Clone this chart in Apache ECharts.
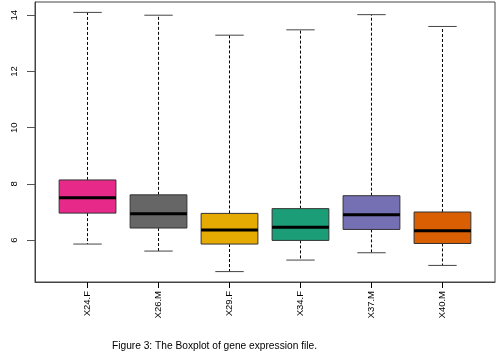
<!DOCTYPE html>
<html>
<head>
<meta charset="utf-8">
<script src="https://cdn.jsdelivr.net/npm/echarts@6/dist/echarts.min.js"></script>
<style>
  html, body { margin: 0; padding: 0; background: #fff; }
  #chart { width: 500px; height: 356px; }
</style>
</head>
<body>
<div id="chart"></div>
<script>
// samples on the x axis
const categories = ['X24.F', 'X26.M', 'X29.F', 'X34.F', 'X37.M', 'X40.M'];
// five-number summaries
const lowerWhisker = [5.86, 5.61, 4.88, 5.29, 5.55, 5.10];
const lowerQuart = [6.96, 6.43, 5.86, 5.99, 6.38, 5.88];
const medians = [7.51, 6.94, 6.36, 6.46, 6.90, 6.33];
const upperQuart = [8.14, 7.61, 6.95, 7.12, 7.58, 7.00];
const upperWhisker = [14.10, 14.00, 13.29, 13.48, 14.02, 13.60];
const yTicks = [6, 8, 10, 12, 14];
const xTicks = [1, 2, 3, 4, 5, 6];
const colors = ['#E7298A', '#666666', '#E6AB02', '#1B9E77', '#7570B3', '#D95F02'];

const boxData = categories.map((_, i) => [
  i + 1, lowerWhisker[i], lowerQuart[i], medians[i], upperQuart[i], upperWhisker[i],
]);

const labelFont = 'Liberation Sans, Arial, sans-serif';

function renderBox(params, api) {
  const x = api.value(0);
  const pMin = api.coord([x, api.value(1)]);
  const pQ1 = api.coord([x, api.value(2)]);
  const pMed = api.coord([x, api.value(3)]);
  const pQ3 = api.coord([x, api.value(4)]);
  const pMax = api.coord([x, api.value(5)]);
  const halfBox = api.size([0.4, 0])[0];
  const halfCap = api.size([0.2, 0])[0];
  const cx = pMed[0];
  const whisker = { stroke: '#000', lineWidth: 1, lineDash: [3, 2] };
  const cap = { stroke: '#444', lineWidth: 1 };
  return {
    type: 'group',
    children: [
      { type: 'line', shape: { x1: cx, y1: pQ3[1], x2: cx, y2: pMax[1] }, style: whisker },
      { type: 'line', shape: { x1: cx, y1: pQ1[1], x2: cx, y2: pMin[1] }, style: whisker },
      { type: 'line', shape: { x1: cx - halfCap, y1: pMax[1], x2: cx + halfCap, y2: pMax[1] }, style: cap },
      { type: 'line', shape: { x1: cx - halfCap, y1: pMin[1], x2: cx + halfCap, y2: pMin[1] }, style: cap },
      {
        type: 'rect',
        shape: { x: cx - halfBox, y: pQ3[1], width: halfBox * 2, height: pQ1[1] - pQ3[1] },
        style: { fill: colors[params.dataIndex], stroke: '#333', lineWidth: 1 },
      },
      {
        type: 'line',
        shape: { x1: cx - halfBox, y1: pMed[1], x2: cx + halfBox, y2: pMed[1] },
        style: { stroke: '#000', lineWidth: 3 },
      },
    ],
  };
}

const chart = echarts.init(document.getElementById('chart'));
chart.setOption({
  animation: false,
  grid: {
    left: 35, right: 5, top: 2, bottom: 74,
    show: true, borderColor: '#444', borderWidth: 1,
  },
  xAxis: {
    type: 'value',
    min: 0.26,
    max: 6.74,
    splitLine: { show: false },
    axisLine: { show: true, lineStyle: { color: '#444', width: 1 } },
    axisTick: { show: true, length: 6, lineStyle: { color: '#000' }, customValues: xTicks },
    axisLabel: {
      customValues: xTicks,
      rotate: 90,
      margin: 9,
      fontSize: 9.5,
      fontFamily: labelFont,
      color: '#000',
      formatter: (v) => categories[Math.round(v) - 1],
    },
  },
  yAxis: {
    type: 'value',
    min: 4.51,
    max: 14.47,
    splitLine: { show: false },
    axisLine: { show: true, lineStyle: { color: '#444', width: 1 } },
    axisTick: { show: true, length: 8, lineStyle: { color: '#555' }, customValues: yTicks },
    axisLabel: {
      customValues: yTicks,
      rotate: 90,
      margin: 16,
      fontSize: 9.5,
      fontFamily: labelFont,
      color: '#000',
    },
  },
  series: [
    {
      type: 'custom',
      renderItem: renderBox,
      data: boxData,
      encode: { x: 0, y: [1, 2, 3, 4, 5] },
    },
  ],
  graphic: [
    {
      type: 'text',
      left: 112,
      top: 341,
      style: {
        text: 'Figure 3: The Boxplot of gene expression file.',
        fontSize: 10.2,
        fontFamily: labelFont,
        fill: '#000',
      },
    },
  ],
});
</script>
</body>
</html>
